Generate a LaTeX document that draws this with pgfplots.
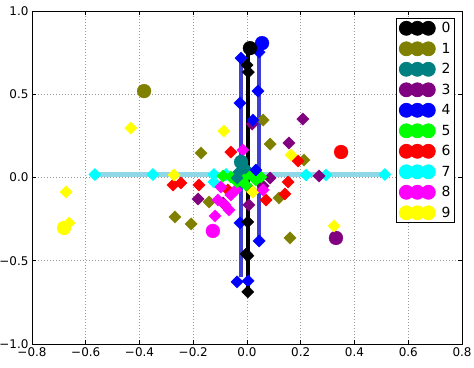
\documentclass[border=0pt]{standalone}
\usepackage{fontspec}
\setmainfont{DejaVu Sans}
\usepackage{pgfplots}
\pgfplotsset{compat=1.18}
\usetikzlibrary{calc}
\definecolor{colive}{RGB}{128,128,0}
\definecolor{cteal}{RGB}{0,128,128}
\definecolor{cpurple}{RGB}{128,0,128}
\definecolor{clime}{RGB}{0,255,0}
\definecolor{cblue}{RGB}{0,0,255}
\definecolor{cred}{RGB}{255,0,0}
\definecolor{ccyan}{RGB}{0,255,255}
\definecolor{cmag}{RGB}{255,0,255}
\definecolor{cyel}{RGB}{255,255,0}
\definecolor{cblk}{RGB}{0,0,0}
\definecolor{cblueline}{RGB}{62,62,210}
\definecolor{ccyanline}{RGB}{144,216,232}
\pgfplotsset{
  dia/.style={only marks, forget plot, color=#1, mark=square*, mark size=4.4bp, mark options={rotate=45, draw=#1, fill=#1, line width=0.2bp}},
  cir/.style={only marks, forget plot, color=#1, mark=*, mark size=7bp, mark options={draw=#1, fill=#1, line width=0.2bp}},
  legimg/.style={legend image code/.code={\fill[#1] (0bp,0bp) circle (7bp) (11bp,0bp) circle (7bp) (22bp,0bp) circle (7bp);}},
}
\begin{document}
\begin{tikzpicture}
\begin{axis}[
  scale only axis, width=430bp, height=333bp,
  xmin=-0.8, xmax=0.8, ymin=-1, ymax=1,
  xtick={-0.8,-0.6,-0.4,-0.2,0,0.2,0.4,0.6,0.8},
  xticklabels={−0.8,−0.6,−0.4,−0.2,0.0,0.2,0.4,0.6,0.8},
  ytick={-1,-0.5,0,0.5,1},
  yticklabels={−1.0,−0.5,0.0,0.5,1.0},
  grid=major, grid style={gray!80, dash pattern=on 1bp off 2bp, line width=0.6bp},
  tick align=inside, major tick length=4bp, tick style={black, line width=0.6bp},
  axis line style={line width=0.8bp},
  ticklabel style={font=\fontsize{12}{13}\selectfont},
  legend style={at={(0.9837,0.979)}, anchor=north east, draw=black, line width=0.8bp, fill=white,
    inner xsep=3bp, inner ysep=2.5bp, row sep=5.7bp, column sep=5bp,
    nodes={inner sep=1bp}, font=\fontsize{14}{14}\selectfont},
  legend cell align=left,
]
% class 5 lime circle (mostly hidden)
\addplot[cir=clime] coordinates {(-0.020,-0.010)};
% class 7 cyan (drawn early)
\addplot[dia=ccyan] coordinates {(-0.566,0.018) (-0.350,0.018) (-0.123,0.018) (-0.078,0.018) (0.220,0.015) (0.294,0.015) (0.513,0.018) (-0.123,-0.027)};
% class 1 olive
\addplot[dia=colive] coordinates {(0.060,0.345) (0.086,0.201) (0.212,0.105) (-0.171,0.147) (-0.268,-0.237) (-0.208,-0.279) (0.160,-0.363) (-0.141,-0.147) (0.119,-0.123) (0.015,-0.075)};
\addplot[cir=colive] coordinates {(-0.383,0.519)};
% class 3 purple
\addplot[dia=cpurple] coordinates {(0.208,0.351) (0.156,0.207) (0.268,0.009) (0.019,0.321) (-0.182,-0.129) (-0.089,-0.153) (0.086,-0.003) (0.060,-0.051) (0.007,-0.165)};
\addplot[cir=cpurple] coordinates {(0.331,-0.363)};
% class 6 red
\addplot[dia=cred] coordinates {(-0.060,0.153) (-0.275,-0.045) (-0.246,-0.033) (-0.179,-0.045) (0.190,0.099) (0.153,-0.027) (0.141,-0.099) (0.071,-0.135) (-0.071,-0.075)};
\addplot[cir=cred] coordinates {(0.350,0.153)};
% class 9 yellow
\addplot[dia=cyel] coordinates {(-0.662,-0.273) (-0.673,-0.087) (-0.432,0.297) (-0.086,0.279) (0.164,0.135) (0.324,-0.291) (-0.272,0.015) (0.022,-0.087)};
\addplot[cir=cyel] coordinates {(-0.681,-0.303)};
% class 8 magenta
\addplot[dia=cmag] coordinates {(-0.119,-0.231) (-0.082,-0.165) (-0.060,-0.105) (-0.041,-0.075) (-0.067,-0.195) (-0.108,-0.135) (-0.015,0.165) (0.060,-0.075) (-0.097,-0.057)};
\addplot[cir=cmag] coordinates {(-0.127,-0.321)};
% class 5 lime diamonds
\addplot[dia=clime] coordinates {(-0.060,0.003) (-0.037,-0.027) (-0.015,-0.003) (0.015,0.015) (0.033,-0.015) (0.052,0.003) (-0.089,0.009) (-0.004,-0.045) (-0.030,0.015)};
% class 2 teal
\addplot[dia=cteal] coordinates {(-0.030,0.033) (-0.007,0.057) (-0.037,-0.003)};
\addplot[cir=cteal] coordinates {(-0.022,0.093)};
% class 7 cyan line
\addplot[forget plot, draw=ccyanline, line width=4.5bp, no marks] coordinates {(-0.566,0.018) (0.513,0.018)};
% class 4 blue
\addplot[dia=cblue] coordinates {(-0.022,0.717) (-0.026,0.447) (-0.037,-0.627) (0.004,-0.621) (0.045,0.753) (0.041,0.519) (0.022,0.345) (0.033,0.045) (0.045,-0.381) (-0.026,-0.273)};
\addplot[forget plot, draw=cblueline, line width=3.5bp, no marks] coordinates {(-0.022,0.717) (-0.022,-0.60)};
\addplot[forget plot, draw=cblueline, line width=3.5bp, no marks] coordinates {(0.045,0.79) (0.045,-0.381)};
\addplot[cir=cblue] coordinates {(0.056,0.807)};
% class 0 black
\addplot[dia=cblk] coordinates {(0.000,0.675) (0.005,0.633) (0.003,-0.267) (-0.003,-0.459) (0.003,-0.687) (0.003,-0.47)};
\addplot[forget plot, draw=cblk, line width=4.5bp, no marks] coordinates {(0.003,0.76) (0.003,-0.687)};
\addplot[cir=cblk] coordinates {(0.011,0.777)};
% legend
\addlegendimage{legimg=cblk}\addlegendentry{0}
\addlegendimage{legimg=colive}\addlegendentry{1}
\addlegendimage{legimg=cteal}\addlegendentry{2}
\addlegendimage{legimg=cpurple}\addlegendentry{3}
\addlegendimage{legimg=cblue}\addlegendentry{4}
\addlegendimage{legimg=clime}\addlegendentry{5}
\addlegendimage{legimg=cred}\addlegendentry{6}
\addlegendimage{legimg=ccyan}\addlegendentry{7}
\addlegendimage{legimg=cmag}\addlegendentry{8}
\addlegendimage{legimg=cyel}\addlegendentry{9}
\end{axis}
\pgfresetboundingbox
\path ($(current axis.south west)+(-32bp,-24bp)$) rectangle ($(current axis.north east)+(12bp,11bp)$);
\end{tikzpicture}
\end{document}
